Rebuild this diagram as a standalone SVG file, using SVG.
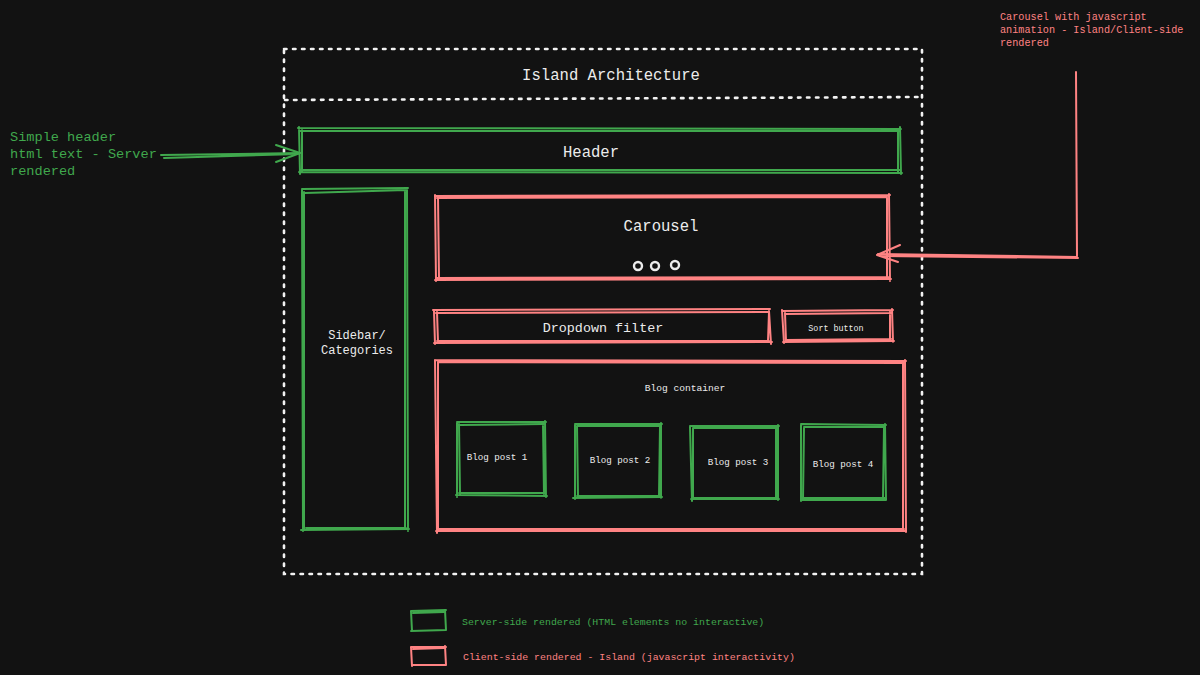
<svg xmlns="http://www.w3.org/2000/svg" width="1200" height="675" viewBox="0 0 1200 675">
<style>
.bg{fill:#121212}
.g{fill:none;stroke:#40a84d;stroke-width:2;stroke-linecap:round;stroke-linejoin:round}
.r{fill:none;stroke:#ff8383;stroke-width:2;stroke-linecap:round;stroke-linejoin:round}
.dot{fill:none;stroke:#f2f2f2;stroke-width:2.6;stroke-dasharray:2.5 6.5;stroke-linecap:round}
.t{font-family:"Liberation Mono","DejaVu Sans Mono",monospace;fill:#ececec;text-anchor:middle}
.tg{font-family:"Liberation Mono","DejaVu Sans Mono",monospace;fill:#40a84d}
.tr{font-family:"Liberation Mono","DejaVu Sans Mono",monospace;fill:#ff8383}
.cd{fill:none;stroke:#ececec;stroke-width:2.4}
</style>
<rect class="bg" width="1200" height="675"/>

<g id="frame">
<path class="dot" d="M284 49 L922 49 L922 574 L284 574 Z"/>
<path class="dot" d="M285 100 L921 97"/>
<text class="t" x="611" y="80" font-size="15.6">Island Architecture</text>
</g>

<g id="header">
<path class="g" d="M298 128 L901 129 M900 127 L901 174 M902 173 L299 172 M300 174 L299 127 M300 131 L899 131 M898 130 L898 172 M900 170 L301 170 M302 171 L302 130"/>
<text class="t" x="591" y="157" font-size="15.6">Header</text>
</g>

<g id="sidebar">
<path class="g" d="M302 189 L408 188 M407 190 L408 531 M409 529 L301 530 M303 531 L302 190 M305 193 L406 190 M405 192 L405 528 M406 528 L306 528 M304 530 L304 192"/>
<text class="t" x="357" y="339" font-size="12">Sidebar/</text>
<text class="t" x="357" y="354" font-size="12">Categories</text>
</g>

<g id="carousel">
<path class="r" d="M435 196 L890 195 M889 194 L890 281 M891 279 L435 280 M436 281 L435 195 M437 198 L887 197 M887 198 L887 278 M889 277 L437 278 M439 279 L438 197"/>
<text class="t" x="661" y="231" font-size="15.6">Carousel</text>
<circle class="cd" cx="638" cy="266" r="4"/>
<circle class="cd" cx="655" cy="266" r="4"/>
<circle class="cd" cx="675" cy="265" r="4"/>
</g>

<g id="dropdown">
<path class="r" d="M433 310 L770 309 M769 311 L771 344 M772 342 L434 343 M435 344 L434 311 M436 313 L768 312 M769 312 L768 341 M769 341 L437 341 M438 342 L437 312"/>
<text class="t" x="603" y="332" font-size="13.4">Dropdown filter</text>
</g>

<g id="sort">
<path class="r" d="M782 311 L893 310 M892 309 L893 342 M894 341 L783 342 M784 343 L782 310 M785 314 L891 313 M890 312 L890 340 M891 339 L786 340 M786 341 L785 313"/>
<text class="t" x="836" y="331" font-size="8.4">Sort button</text>
</g>

<g id="blog-container">
<path class="r" d="M435 360 L906 361 M905 360 L906 532 M906 531 L436 531 M437 533 L435 360 M439 362 L904 363 M903 362 L903 530 M904 529 L438 529 M438 531 L438 362"/>
<text class="t" x="685" y="391" font-size="9.6">Blog container</text>
</g>

<g id="post1">
<path class="g" d="M457 422 L546 422 M545 421 L546 497 M547 496 L456 495 M457 497 L457 423 M460 425 L544 424 M543 425 L544 494 M545 493 L459 493 M460 494 L459 424"/>
<text class="t" x="497" y="460" font-size="9.2">Blog post 1</text>
</g>

<g id="post2">
<path class="g" d="M575 424 L662 424 M661 423 L661 498 M662 497 L573 498 M575 499 L575 425 M577 426 L660 426 M660 427 L659 496 M660 496 L577 496 M578 497 L577 426"/>
<text class="t" x="620" y="463" font-size="9.2">Blog post 2</text>
</g>

<g id="post3">
<path class="g" d="M690 426 L779 426 M778 425 L778 500 M779 499 L691 499 M692 501 L690 427 M693 428 L777 428 M776 429 L776 497 M777 498 L692 498 M693 498 L693 428"/>
<text class="t" x="738" y="465" font-size="9.2">Blog post 3</text>
</g>

<g id="post4">
<path class="g" d="M801 424 L886 425 M885 424 L886 500 M886 500 L801 500 M801 501 L801 425 M804 427 L884 427 M884 428 L883 498 M885 498 L803 498 M803 499 L804 428"/>
<text class="t" x="843" y="467" font-size="9.2">Blog post 4</text>
</g>

<g id="note-left">
<text class="tg" font-size="13.6"><tspan x="10" y="141">Simple header</tspan><tspan x="10" y="158">html text - Server</tspan><tspan x="10" y="175">rendered</tspan></text>
</g>

<g id="note-right">
<text class="tr" font-size="10.2"><tspan x="1000" y="20">Carousel with javascript</tspan><tspan x="1000" y="33">animation - Island/Client-side</tspan><tspan x="1000" y="46">rendered</tspan></text>
</g>

<g id="connectors">
<path class="g" d="M161 155 L300 153 M164 158 L298 154"/>
<path class="g" d="M276 145 L300 153 L276 162"/>
<path class="r" d="M1076 72 L1077 256 M1077 257 L878 254 M1078 258 L880 256"/>
<path class="r" d="M900 245 L877 255 L898 262"/>
</g>

<g id="legend">
<path class="g" d="M411 611 L446 610 M445 610 L446 630 M446 630 L411 631 M412 631 L411 611 M413 613 L444 612"/>
<text class="tg" x="462" y="625" font-size="9.9">Server-side rendered (HTML elements no interactive)</text>
<path class="r" d="M411 647 L446 647 M445 646 L446 665 M446 665 L412 665 M412 666 L411 647 M413 649 L444 648"/>
<text class="tr" x="463" y="660" font-size="9.9">Client-side rendered - Island (javascript interactivity)</text>
</g>
</svg>
